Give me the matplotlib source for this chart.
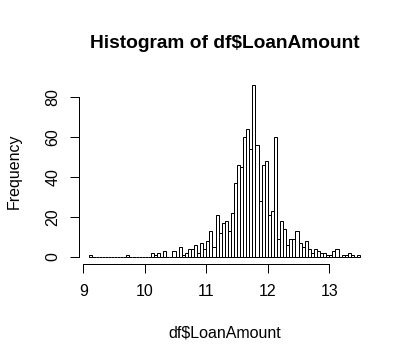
import numpy as np
import matplotlib
matplotlib.use("Agg")
import matplotlib.pyplot as plt

plt.rcParams['font.family'] = ['Liberation Sans', 'DejaVu Sans']

# histogram bins of width 0.05 from 9.1 to 13.5
bin_start = 9.1
bin_width = 0.05
counts = [1] + [0] * 11 + [1] + [0] * 7 + \
    [2, 1, 2, 0, 3, 0, 0, 3, 0, 5, 1, 2, 4, 4, 6, 2, 7, 4] + \
    [8, 13, 5, 21, 12, 17, 18, 13, 22, 37, 46, 45, 60, 64, 54, 86, 56, 28,
     46, 48, 21, 23, 60, 9, 18, 14, 6, 9, 9, 13, 7, 5, 8, 4, 2, 4, 3, 2, 2,
     1, 1, 3, 4, 0, 1, 1, 2, 1, 0, 1]
x_ticks = [9, 10, 11, 12, 13]
y_ticks = [0, 20, 40, 60, 80]

edges = bin_start + bin_width * np.arange(len(counts) + 1)
lw = 0.72
fs = 11.5

fig = plt.figure(figsize=(4.11, 3.62), dpi=100)
ax = fig.add_axes([0.1912, 0.2718, 0.9024 - 0.1912, 0.7831 - 0.2718])

ax.bar(edges[:-1], counts, width=bin_width, align='edge',
       facecolor='white', edgecolor='black', linewidth=lw)

lo, hi = edges[0], edges[-1]
pad = (hi - lo) * 0.04
ax.set_xlim(lo - pad, hi + pad)
ymax = max(counts)
ax.set_ylim(-ymax * 0.04, ymax * 1.04)

ax.spines['top'].set_visible(False)
ax.spines['right'].set_visible(False)
ax.spines['left'].set_bounds(y_ticks[0], y_ticks[-1])
ax.spines['bottom'].set_bounds(x_ticks[0], x_ticks[-1])
for s in ('left', 'bottom'):
    ax.spines[s].set_linewidth(lw)

ax.set_xticks(x_ticks, [str(v) for v in x_ticks])
ax.set_yticks(y_ticks, [str(v) for v in y_ticks], rotation=90, va='center')
ax.tick_params(axis='both', length=6.5, width=lw, labelsize=fs)
ax.tick_params(axis='x', pad=8.3)
ax.tick_params(axis='y', pad=6.6)

fig.text(0.5467, 0.868, 'Histogram of df$LoanAmount', ha='center',
         va='baseline', fontsize=fs * 1.2, fontweight='bold')
fig.text(0.5467, 0.0682, 'df$LoanAmount', ha='center', va='baseline',
         fontsize=fs)
fig.text(0.0528, 0.528, 'Frequency', ha='right', va='center',
         rotation=90, fontsize=fs)

fig.savefig('out.png', dpi=100)
